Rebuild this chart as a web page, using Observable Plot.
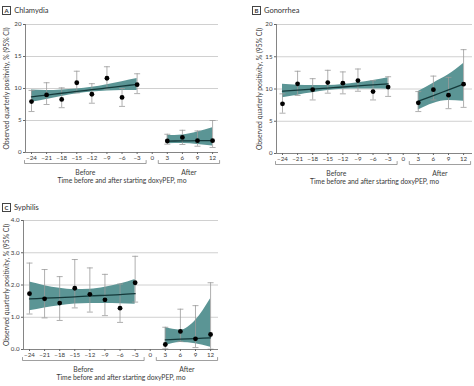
<!DOCTYPE html>
<html>
<head>
<meta charset="utf-8">
<script src="https://cdn.jsdelivr.net/npm/d3@7"></script>
<script src="https://cdn.jsdelivr.net/npm/@observablehq/plot@0.6"></script>
<style>
  body { margin: 0; background: #fff; }
  #wrap { position: relative; width: 474px; height: 386px; background: #fff; overflow: hidden; font-family: Lato, "Open Sans", sans-serif; }
  .panel { position: absolute; }
  .lab { position: absolute; font-size: 7.5px; color: #333; display: flex; align-items: center; white-space: nowrap; }
  .box { display: inline-block; border: 0.8px solid #444; font-weight: bold; font-size: 6px; line-height: 7px; padding: 0 1.5px; margin-right: 3px; }
</style>
</head>
<body>
<div id="wrap"></div>
<script>
// ---- data ----
const monthsBefore = [-24, -21, -18, -15, -12, -9, -6, -3];
const monthsAfter = [3, 6, 9, 12];
const xTicks = [-24, -21, -18, -15, -12, -9, -6, -3, 0, 3, 6, 9, 12];
const yTicksPct = [0, 5, 10, 15, 20];
const yTicksSyph = [0, 1, 2, 3, 4];
const panelLetters = ["A", "B", "C"];
const panelNames = ["Chlamydia", "Gonorrhea", "Syphilis"];
const periodLabels = ["Before", "After"];
const xTitle = "Time before and after starting doxyPEP, mo";
const yTitle = "Observed quarterly positivity, % (95% CI)";

// Chlamydia
const chlBefore = [7.95, 9.0, 8.3, 10.9, 9.1, 11.6, 8.6, 10.6];
const chlBeforeLo = [6.4, 7.5, 7.0, 9.3, 7.7, 9.9, 7.2, 9.2];
const chlBeforeHi = [9.7, 10.9, 10.1, 12.7, 10.75, 13.4, 10.0, 12.3];
const chlAfter = [1.8, 2.35, 1.85, 1.85];
const chlAfterLo = [1.3, 1.25, 0.98, 0.78];
const chlAfterHi = [2.85, 3.47, 3.37, 5.0];
const chlFitBefore = [8.7, 8.98, 9.26, 9.54, 9.81, 10.09, 10.37, 10.65];
const chlBandBeforeLo = [7.85, 8.29, 8.76, 9.17, 9.44, 9.59, 9.68, 9.7];
const chlBandBeforeHi = [9.75, 9.67, 9.76, 9.91, 10.18, 10.59, 11.06, 11.55];
const chlFitAfter = [1.78, 1.81, 1.84, 1.87];
const chlBandAfterLo = [1.35, 1.4, 1.25, 1.0];
const chlBandAfterHi = [2.65, 2.75, 3.2, 3.85];

// Gonorrhea
const gonBefore = [7.7, 10.8, 9.9, 11.0, 10.9, 11.3, 9.6, 10.3];
const gonBeforeLo = [6.25, 9.0, 8.3, 9.35, 9.25, 9.65, 8.3, 8.85];
const gonBeforeHi = [9.25, 12.75, 11.6, 12.9, 12.65, 13.1, 11.3, 11.9];
const gonAfter = [7.85, 9.9, 9.05, 10.75];
const gonAfterLo = [6.5, 8.3, 6.95, 7.15];
const gonAfterHi = [9.6, 12.0, 11.8, 16.1];
const gonFitBefore = [9.66, 9.82, 9.99, 10.15, 10.31, 10.48, 10.64, 10.8];
const gonBandBeforeLo = [8.65, 9.05, 9.4, 9.75, 9.95, 10.0, 10.0, 9.95];
const gonBandBeforeHi = [10.75, 10.6, 10.55, 10.55, 10.7, 10.95, 11.3, 11.75];
const gonFitAfter = [8.1, 8.98, 9.87, 10.75];
const gonBandAfterLo = [6.75, 7.75, 8.2, 8.1];
const gonBandAfterHi = [9.6, 10.9, 12.2, 13.95];

// Syphilis
const syBefore = [1.73, 1.57, 1.44, 1.9, 1.71, 1.54, 1.28, 2.07];
const syBeforeLo = [1.1, 0.98, 0.9, 1.29, 1.16, 1.05, 0.84, 1.47];
const syBeforeHi = [2.68, 2.48, 2.26, 2.79, 2.53, 2.33, 2.03, 2.89];
const syAfter = [0.155, 0.56, 0.33, 0.465];
const syAfterLo = [0.02, 0.25, 0.06, 0.01];
const syAfterHi = [0.69, 1.25, 1.36, 2.07];
const syFitBefore = [1.57, 1.59, 1.61, 1.63, 1.66, 1.68, 1.70, 1.73];
const syBandBeforeLo = [1.2, 1.29, 1.36, 1.41, 1.43, 1.43, 1.42, 1.4];
const syBandBeforeHi = [2.09, 1.98, 1.9, 1.86, 1.87, 1.93, 2.03, 2.17];
const syFitAfter = [0.3, 0.32, 0.34, 0.36];
const syBandAfterLo = [0.12, 0.22, 0.18, 0.07];
const syBandAfterHi = [0.68, 0.6, 0.9, 1.57];

// ---- build tables ----
function pts(xs, v, lo, hi) { return xs.map((x, i) => ({x, v: v[i], lo: lo[i], hi: hi[i]})); }
function band(xs, f, lo, hi) { return xs.map((x, i) => ({x, f: f[i], lo: lo[i], hi: hi[i]})); }

const panels = [
  {
    letter: panelLetters[0], name: panelNames[0], yTicks: yTicksPct,
    left: 0, top: 0, mL: 25, mR: 19, mT: 24, mB: 41, titleDx: -19,
    labLeft: 2, labTop: 6,
    points: [...pts(monthsBefore, chlBefore, chlBeforeLo, chlBeforeHi), ...pts(monthsAfter, chlAfter, chlAfterLo, chlAfterHi)],
    bands: [band(monthsBefore, chlFitBefore, chlBandBeforeLo, chlBandBeforeHi), band(monthsAfter, chlFitAfter, chlBandAfterLo, chlBandAfterHi)]
  },
  {
    letter: panelLetters[1], name: panelNames[1], yTicks: yTicksPct,
    left: 237, top: 0, mL: 39, mR: 2, mT: 24, mB: 40, titleDx: -17,
    labLeft: 252, labTop: 6,
    points: [...pts(monthsBefore, gonBefore, gonBeforeLo, gonBeforeHi), ...pts(monthsAfter, gonAfter, gonAfterLo, gonAfterHi)],
    bands: [band(monthsBefore, gonFitBefore, gonBandBeforeLo, gonBandBeforeHi), band(monthsAfter, gonFitAfter, gonBandAfterLo, gonBandAfterHi)]
  },
  {
    letter: panelLetters[2], name: panelNames[2], yTicks: yTicksSyph,
    left: 0, top: 193, mL: 23, mR: 19, mT: 27, mB: 37, titleDx: -17,
    labLeft: 2, labTop: 203,
    points: [...pts(monthsBefore, syBefore, syBeforeLo, syBeforeHi), ...pts(monthsAfter, syAfter, syAfterLo, syAfterHi)],
    bands: [band(monthsBefore, syFitBefore, syBandBeforeLo, syBandBeforeHi), band(monthsAfter, syFitAfter, syBandAfterLo, syBandAfterHi)]
  }
];

const fmt = d => d < 0 ? "\u2212" + (-d) : String(d);
const wrap = document.getElementById("wrap");
const W = 237, H = 193;
const textFill = "#3a3a3a";

for (const p of panels) {
  const ymax = p.yTicks[p.yTicks.length - 1];
  const plotW = W - p.mL - p.mR;
  const plotH = H - p.mT - p.mB;
  const pxPerX = 5.03;
  const xmin = -24 - 6 / pxPerX;
  const xmax = xmin + plotW / pxPerX;
  const py = px => -px * ymax / plotH;     // pixel offset below baseline -> data units
  const px2x = px => px / pxPerX;
  const bY = py(11), hookY = py(8);
  const brackets = [
    {g: 0, a: -24 - px2x(7), b: -3 + px2x(9)},
    {g: 1, a: 3 - px2x(9), b: 12 + px2x(7)}
  ];
  const bracketPts = brackets.flatMap(br => [
    {g: br.g, x: br.a, y: hookY}, {g: br.g, x: br.a, y: bY}, {g: br.g, x: br.b, y: bY}, {g: br.g, x: br.b, y: hookY}
  ]);
  const capW = px2x(3);

  const chart = Plot.plot({
    width: W, height: H,
    marginLeft: p.mL, marginRight: p.mR, marginTop: p.mT, marginBottom: p.mB,
    style: {fontFamily: "Lato, 'Open Sans', sans-serif", fontSize: "6.2px", color: textFill, background: "transparent", overflow: "visible"},
    x: {domain: [xmin, xmax], label: null},
    y: {domain: [0, ymax], label: null},
    marks: [
      Plot.gridY(p.yTicks.filter(d => d > 0), {stroke: "#c4c4c4", strokeOpacity: 1, strokeWidth: 0.8}),
      ...p.bands.map(b => Plot.areaY(b, {x: "x", y1: "lo", y2: "hi", fill: "#5b9595", curve: "monotone-x"})),
      Plot.ruleX(p.points, {x: "x", y1: "lo", y2: "hi", stroke: "#9a9a9a", strokeWidth: 0.8}),
      Plot.link(p.points, {x1: d => d.x - capW, x2: d => d.x + capW, y1: "hi", y2: "hi", stroke: "#9a9a9a", strokeWidth: 0.8}),
      Plot.link(p.points, {x1: d => d.x - capW, x2: d => d.x + capW, y1: "lo", y2: "lo", stroke: "#9a9a9a", strokeWidth: 0.8}),
      ...p.bands.map(b => Plot.line(b, {x: "x", y: "f", stroke: "#14393a", strokeWidth: 1.3, curve: "monotone-x"})),
      Plot.dot(p.points, {x: "x", y: "v", r: 2.4, fill: "#000"}),
      Plot.ruleY([0], {stroke: "#666", strokeWidth: 0.8}),
      Plot.ruleX([xmin], {y1: 0, y2: ymax, stroke: "#666", strokeWidth: 0.8}),
      Plot.axisY({ticks: p.yTicks, tickSize: 2, tickPadding: 2, stroke: "#666", fill: textFill, label: null}),
      Plot.axisX({ticks: xTicks, tickFormat: fmt, tickSize: 2, tickPadding: 1.5, stroke: "#666", fill: textFill, label: null}),
      Plot.line(bracketPts, {x: "x", y: "y", z: "g", stroke: "#777", strokeWidth: 0.7}),
      Plot.text(brackets, {x: d => (d.a + d.b) / 2, y: 0, dy: 20, text: d => periodLabels[d.g], fill: textFill, fontSize: 6.8}),
      Plot.text([xTitle], {frameAnchor: "bottom", textAnchor: "middle", dy: 30, text: d => d, fill: textFill, fontSize: 6.8}),
      Plot.text([yTitle], {frameAnchor: "left", textAnchor: "middle", dx: p.titleDx, rotate: -90, text: d => d, fill: textFill, fontSize: 6.8})
    ]
  });
  chart.classList.add("panel");
  chart.style.left = p.left + "px";
  chart.style.top = p.top + "px";
  wrap.appendChild(chart);

  const lab = document.createElement("div");
  lab.className = "lab";
  lab.style.left = p.labLeft + "px";
  lab.style.top = p.labTop + "px";
  lab.innerHTML = `<span class="box">${p.letter}</span><span>${p.name}</span>`;
  wrap.appendChild(lab);
}
</script>
</body>
</html>
